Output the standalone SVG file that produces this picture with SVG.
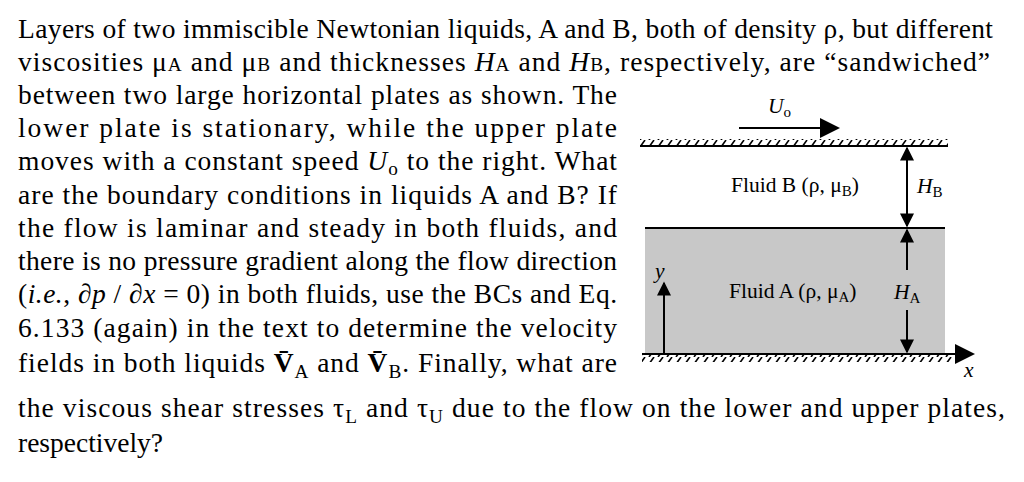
<svg xmlns="http://www.w3.org/2000/svg" width="1024" height="482" viewBox="0 0 1024 482">
<defs>
<style>
.t{font-family:"Liberation Serif","Times New Roman",serif;font-size:27.5px;fill:#000}
.d{font-family:"Liberation Serif","Times New Roman",serif;font-size:21.5px;fill:#000}
.s{font-size:70%}
.l{stroke:#000;stroke-width:2;fill:none}
</style>
<marker id="ah" viewBox="0 0 10 10" refX="9" refY="5" markerWidth="16" markerHeight="14" markerUnits="userSpaceOnUse" orient="auto-start-reverse"><path d="M0,0 L10,5 L0,10 z" fill="#000"/></marker>
<marker id="ab" viewBox="0 0 10 10" refX="9" refY="5" markerWidth="28" markerHeight="20" markerUnits="userSpaceOnUse" orient="auto-start-reverse"><path d="M0,0 L10,5 L0,10 z" fill="#000"/></marker>
<pattern id="hatch" width="9" height="7" patternUnits="userSpaceOnUse"><line x1="1" y1="7" x2="6" y2="0" stroke="#000" stroke-width="1.6"/></pattern>
</defs>
<rect width="1024" height="482" fill="#fff"/>
<g id="text">
<text class="t" x="18" y="38" textLength="975" lengthAdjust="spacing">Layers of two immiscible Newtonian liquids, A and B, both of density ρ, but different</text>
<text class="t" x="18" y="71" textLength="972" lengthAdjust="spacing">viscosities μ<tspan class="s">A</tspan> and μ<tspan class="s">B</tspan> and thicknesses <tspan font-style="italic">H</tspan><tspan class="s">A</tspan> and <tspan font-style="italic">H</tspan><tspan class="s">B</tspan>, respectively, are “sandwiched”</text>
<text class="t" x="18" y="104" textLength="599" lengthAdjust="spacing">between two large horizontal plates as shown.  The</text>
<text class="t" x="18" y="137" textLength="599" lengthAdjust="spacing">lower plate is stationary, while the upper plate</text>
<text class="t" x="18" y="170" textLength="599" lengthAdjust="spacing">moves with a constant speed <tspan font-style="italic">U</tspan><tspan class="s" dy="5">o</tspan><tspan dy="-5"> to the right.  What</tspan></text>
<text class="t" x="18" y="204" textLength="599" lengthAdjust="spacing">are the boundary conditions in liquids A and B?  If</text>
<text class="t" x="18" y="237" textLength="599" lengthAdjust="spacing">the flow is laminar and steady in both fluids, and</text>
<text class="t" x="18" y="270" textLength="599" lengthAdjust="spacing">there is no pressure gradient along the flow direction</text>
<text class="t" x="18" y="303" textLength="599" lengthAdjust="spacing">(<tspan font-style="italic">i.e.</tspan>, ∂<tspan font-style="italic">p</tspan> / ∂<tspan font-style="italic">x</tspan> = 0) in both fluids, use the BCs and Eq.</text>
<text class="t" x="18" y="337" textLength="599" lengthAdjust="spacing">6.133 (again) in the text to determine the velocity</text>
<text class="t" x="18" y="372" textLength="599" lengthAdjust="spacing">fields in both liquids <tspan font-weight="bold">V̄</tspan><tspan class="s" dy="6">A</tspan><tspan dy="-6"> and </tspan><tspan font-weight="bold">V̄</tspan><tspan class="s" dy="6">B</tspan><tspan dy="-6">.  Finally, what are</tspan></text>
<text class="t" x="18" y="417" textLength="987" lengthAdjust="spacing">the viscous shear stresses τ<tspan class="s" dy="6">L</tspan><tspan dy="-6"> and τ</tspan><tspan class="s" dy="6">U</tspan><tspan dy="-6"> due to the flow on the lower and upper plates,</tspan></text>
<text class="t" x="18" y="452">respectively?</text>
</g>
<g id="fluidA"><rect x="645" y="228" width="300" height="126" fill="#c8c8c8"/>
<text class="d" x="729" y="298">Fluid A (ρ, μ<tspan class="s" dy="4">A</tspan><tspan dy="-4">)</tspan></text></g>
<g id="fluidB"><text class="d" x="731" y="192">Fluid B (ρ, μ<tspan class="s" dy="4">B</tspan><tspan dy="-4">)</tspan></text></g>
<g id="plates">
<rect x="640" y="139" width="308" height="7" fill="url(#hatch)"/>
<line class="l" x1="640" y1="146" x2="948" y2="146"/>
<line class="l" x1="645" y1="228" x2="945" y2="228"/>
<rect x="642" y="355" width="310" height="7" fill="url(#hatch)"/>
</g>
<g id="connectors">
<line class="l" x1="739" y1="128" x2="838" y2="128" stroke-width="3.5" marker-end="url(#ab)"/>
<line class="l" x1="642" y1="354" x2="973" y2="354" marker-end="url(#ab)"/>
<line class="l" x1="664" y1="354" x2="664" y2="283" stroke-width="1.5" marker-end="url(#ah)"/>
<line class="l" x1="907" y1="148" x2="907" y2="226" stroke-width="1.5" marker-start="url(#ah)" marker-end="url(#ah)"/>
<line class="l" x1="907" y1="230" x2="907" y2="270" stroke-width="1.5" marker-start="url(#ah)"/>
<line class="l" x1="907" y1="310" x2="907" y2="352" stroke-width="1.5" marker-end="url(#ah)"/>
</g>
<g id="labels">
<text class="d" x="768" y="113" font-style="italic">U<tspan class="s" font-style="normal" dy="4">o</tspan></text>
<text class="d" x="917" y="193" font-style="italic">H<tspan class="s" font-style="normal" dy="4">B</tspan></text>
<text class="d" x="894" y="299" font-style="italic">H<tspan class="s" font-style="normal" dy="4">A</tspan></text>
<text class="d" x="655" y="278" font-style="italic" font-size="19">y</text>
<text class="d" x="964" y="377" font-style="italic" font-size="19">x</text>
</g>
</svg>
